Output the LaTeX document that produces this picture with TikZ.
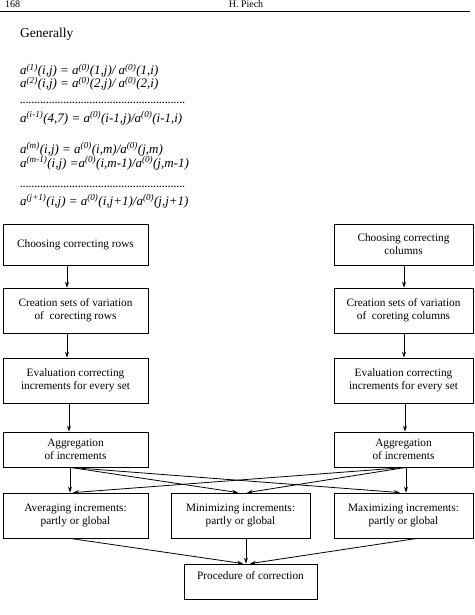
\documentclass[tikz,border=0pt]{standalone}
\usepackage{fontspec}
\setmainfont{Liberation Serif}
\usetikzlibrary{arrows.meta}

\newcommand{\upi}[1]{\textsuperscript{(#1)}}
\newcommand{\dotrow}{\makebox[167pt]{\leaders\hbox to 2.9pt{\hss.\hss}\hfill}}

\begin{document}
\begin{tikzpicture}[
    x=1pt, y=-1pt,
    box/.style={rectangle, draw, line width=0.8pt, align=center, minimum width=145pt, minimum height=45pt, inner sep=2pt, font=\fontsize{11.3}{13}\selectfont},
    narrow/.style={box, minimum width=139pt},
    low/.style={minimum height=35pt},
    formula/.style={anchor=base west, inner sep=0pt, font=\fontsize{13}{15}\selectfont\itshape},
    arrow/.style={-{Stealth[length=6pt,width=4pt]}, line width=0.8pt}
  ]
    \useasboundingbox (0,0) rectangle (474,615);

    % Page header
    \node[anchor=base west, inner sep=0pt, font=\fontsize{10}{12}\selectfont] (pagenum) at (5,8) {168};
    \node[anchor=base, inner sep=0pt, font=\fontsize{10}{12}\selectfont] (author) at (246,8) {H. Piech};
    \draw[line width=0.6pt] (0,11) -- (470,11);

    % Formulas
    \node[anchor=base west, inner sep=0pt, font=\fontsize{13.5}{15}\selectfont] (general) at (20,38) {Generally};
    \node[formula] (f1) at (20,75) {a\upi{1}(i,j) = a\upi{0}(1,j)/ a\upi{0}(1,i)};
    \node[formula] (f2) at (20,88) {a\upi{2}(i,j) = a\upi{0}(2,j)/ a\upi{0}(2,i)};
    \node[formula] (d1) at (20,103) {\dotrow};
    \node[formula] (f3) at (20,122) {a\upi{i-1}(4,7) = a\upi{0}(i-1,j)/a\upi{0}(i-1,i)};
    \node[formula] (f4) at (20,153) {a\upi{m}(i,j) = a\upi{0}(i,m)/a\upi{0}(j,m)};
    \node[formula] (f5) at (20,167) {a\upi{m-1}(i,j) =a\upi{0}(i,m-1)/a\upi{0}(j,m-1)};
    \node[formula] (d2) at (20,187) {\dotrow};
    \node[formula] (f6) at (20,205) {a\upi{j+1}(i,j) = a\upi{0}(i,j+1)/a\upi{0}(j,j+1)};

    % Left column - rows
    \node[box, minimum height=41pt] (choseR) at (75.5,244.5) {Choosing correcting rows};
    \node[box] (creatR) at (75.5,310.5) {Creation sets of variation\\of\ \ corecting rows};
    \node[box] (evalR) at (75.5,380.5) {Evaluation correcting\\increments for every set};
    \node[box, low] (aggR) at (75.5,449.5) {Aggregation\\of increments};

    % Right column - columns
    \node[narrow, minimum height=41pt] (choseC) at (403.5,244.5) {Choosing correcting\\columns};
    \node[narrow] (creatC) at (403.5,310.5) {Creation sets of variation\\of\ \ coreting columns};
    \node[narrow] (evalC) at (403.5,380.5) {Evaluation correcting\\increments for every set};
    \node[narrow, low] (aggC) at (403.5,449.5) {Aggregation\\of increments};

    % Combining layer
    \node[box] (avg) at (75.5,515.5) {Averaging increments:\\partly or global};
    \node[narrow] (minim) at (240.5,515.5) {Minimizing increments:\\partly or global};
    \node[narrow] (maxim) at (403.5,515.5) {Maximizing increments:\\partly or global};

    % Final step
    \node[box, minimum width=133pt, minimum height=35pt, text height=12pt, text depth=17pt, inner ysep=3pt] (proc) at (250.5,581.5) {Procedure of correction};

    % Arrows - columns
    \draw[arrow] ([xshift=-8.5pt]choseR.south) -- ([xshift=-8.5pt]creatR.north);
    \draw[arrow] ([xshift=-8.5pt]creatR.south) -- ([xshift=-8.5pt]evalR.north);
    \draw[arrow] ([xshift=-6.5pt]evalR.south) -- ([xshift=-6.5pt]aggR.north);
    \draw[arrow] ([xshift=0.5pt]choseC.south) -- ([xshift=0.5pt]creatC.north);
    \draw[arrow] ([xshift=0.5pt]creatC.south) -- ([xshift=0.5pt]evalC.north);
    \draw[arrow] ([xshift=1.5pt]evalC.south) -- ([xshift=1.5pt]aggC.north);

    % Arrows - aggregation to combining
    \draw[arrow] ([xshift=-5.5pt]aggR.south) -- ([xshift=-5.5pt]avg.north);
    \draw[arrow] ([xshift=-5.5pt]aggR.south) -- ([xshift=-2.5pt]minim.north);
    \draw[arrow] ([xshift=-5.5pt]aggR.south) -- ([xshift=-3.5pt]maxim.north);
    \draw[arrow] ([xshift=2.5pt]aggC.south) -- ([xshift=2.5pt]maxim.north);
    \draw[arrow] ([xshift=2.5pt]aggC.south) -- ([xshift=6.5pt]minim.north);
    \draw[arrow] ([xshift=2.5pt]aggC.south) -- ([xshift=-2.5pt]avg.north);

    % Arrows - to correction
    \draw[arrow] ([xshift=-5.5pt]avg.south) -- ([xshift=-7.5pt]proc.north);
    \draw[arrow] ([xshift=5.5pt]minim.south) -- ([xshift=-4.5pt]proc.north);
    \draw[arrow] ([xshift=13.5pt]maxim.south) -- ([xshift=-0.5pt]proc.north);

  \end{tikzpicture}
\end{document}
